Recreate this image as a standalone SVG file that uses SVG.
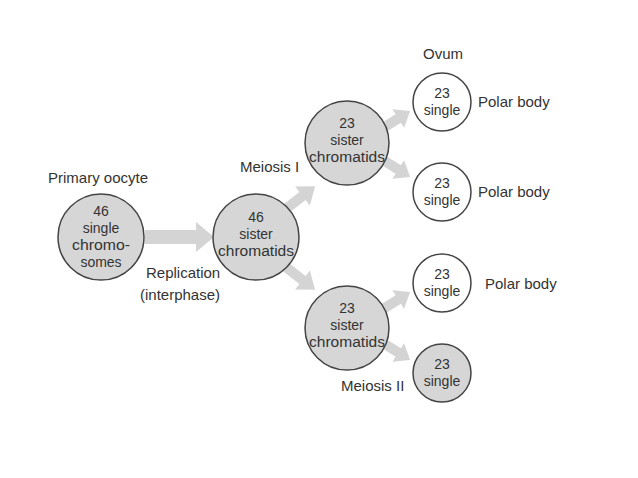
<svg xmlns="http://www.w3.org/2000/svg" width="638" height="478" viewBox="0 0 638 478">
<style>
text{font-family:"Liberation Sans",Arial,sans-serif;fill:#333;font-size:15px}
.c text{text-anchor:middle;font-size:14px}
.g{fill:#d6d6d6;stroke:#444;stroke-width:1.5}
.w{fill:#fff;stroke:#444;stroke-width:1.5}
.a{fill:#d4d4d4}
</style>
<rect width="638" height="478" fill="#fff"/>
<g id="connectors">
<path class="a" d="M145,230 H196 V222 L214,237 L196,252 V244 H145 Z"/>
<path class="a" transform="translate(282,212) rotate(-38)" d="M0,-5 H26 V-12 L42,0 L26,12 V5 H0 Z"/>
<path class="a" transform="translate(282,264) rotate(38)" d="M0,-5 H26 V-12 L42,0 L26,12 V5 H0 Z"/>
<path class="a" transform="translate(383,128) rotate(-32)" d="M0,-5 H18 V-11 L32,0 L18,11 V5 H0 Z"/>
<path class="a" transform="translate(383,160) rotate(32)" d="M0,-5 H18 V-11 L32,0 L18,11 V5 H0 Z"/>
<path class="a" transform="translate(383,309) rotate(-32)" d="M0,-5 H18 V-11 L32,0 L18,11 V5 H0 Z"/>
<path class="a" transform="translate(383,343) rotate(32)" d="M0,-5 H18 V-11 L32,0 L18,11 V5 H0 Z"/>
</g>
<g id="primary" class="c"><circle class="g" cx="101" cy="237" r="43"/>
<text x="101" y="216">46</text><text x="101" y="233">single</text><text x="101" y="250" textLength="58" lengthAdjust="spacingAndGlyphs">chromo-</text><text x="101" y="267">somes</text></g>
<g id="replicated" class="c"><circle class="g" cx="256" cy="237" r="43"/>
<text x="256" y="222">46</text><text x="256" y="239">sister</text><text x="256" y="256" textLength="76" lengthAdjust="spacingAndGlyphs">chromatids</text></g>
<g id="m1a" class="c"><circle class="g" cx="347" cy="143" r="42"/>
<text x="347" y="128">23</text><text x="347" y="145">sister</text><text x="347" y="162" textLength="76" lengthAdjust="spacingAndGlyphs">chromatids</text></g>
<g id="m1b" class="c"><circle class="g" cx="347" cy="328" r="42"/>
<text x="347" y="313">23</text><text x="347" y="330">sister</text><text x="347" y="347" textLength="76" lengthAdjust="spacingAndGlyphs">chromatids</text></g>
<g id="ovum" class="c"><circle class="w" cx="442" cy="102" r="29"/><text x="442" y="98">23</text><text x="442" y="115">single</text></g>
<g id="pb1" class="c"><circle class="w" cx="442" cy="192" r="29"/><text x="442" y="188">23</text><text x="442" y="205">single</text></g>
<g id="pb2" class="c"><circle class="w" cx="442" cy="283" r="29"/><text x="442" y="279">23</text><text x="442" y="296">single</text></g>
<g id="pb3" class="c"><circle class="g" cx="442" cy="373" r="29"/><text x="442" y="369">23</text><text x="442" y="386">single</text></g>
<g id="labels">
<text x="48" y="183">Primary oocyte</text>
<text x="146" y="278">Replication</text>
<text x="140" y="300">(interphase)</text>
<text x="240" y="172">Meiosis I</text>
<text x="341" y="391">Meiosis II</text>
<text x="423" y="59">Ovum</text>
<text x="478" y="107">Polar body</text>
<text x="478" y="197">Polar body</text>
<text x="485" y="289">Polar body</text>
</g>
</svg>
